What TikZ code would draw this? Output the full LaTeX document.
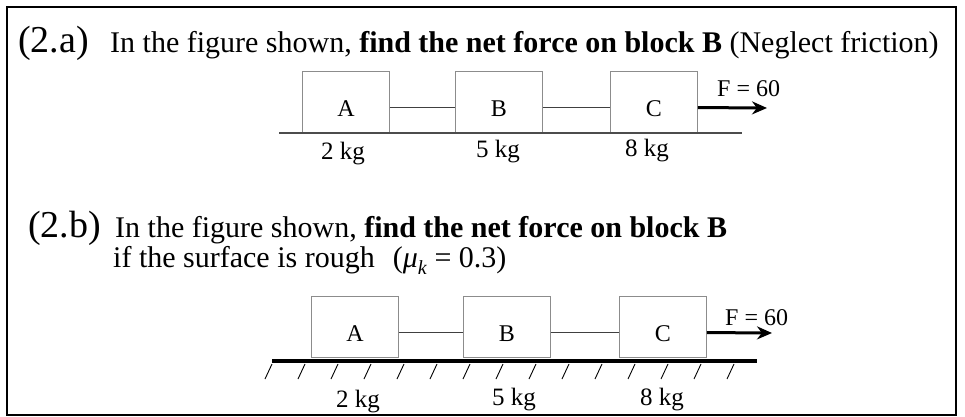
\documentclass[tikz,border=0pt]{standalone}
\usepackage{fontspec}
\setmainfont{Liberation Serif}
\usepackage{tikz}
\usetikzlibrary{arrows.meta}
\usetikzlibrary{calc}

\tikzset{
    block/.style={draw=black!45, line width=0.9pt, minimum width=87pt, minimum height=61pt,
        anchor=south west, inner sep=0pt, text height=28pt, text depth=0pt,
        font=\fontsize{24}{24}\selectfont},
    rope/.style={draw=black!75, line width=1.4pt},
    pull/.style={line width=3pt, -{Stealth[length=15pt, width=13pt]}},
    mass/.style={anchor=base, inner sep=0pt, font=\fontsize{25}{25}\selectfont},
    force/.style={anchor=base west, inner sep=0pt, font=\fontsize{24}{24}\selectfont},
    partno/.style={anchor=base west, inner sep=0pt, font=\fontsize{38}{38}\selectfont},
    question/.style={anchor=base west, inner sep=0pt, font=\fontsize{30}{30}\selectfont}
}

\begin{document}
\begin{tikzpicture}[x=1pt, y=-1pt]
        \useasboundingbox (0,0) rectangle (965,417);
        \draw[line width=2pt] (7,7) rectangle (956,415);

        \node[partno] (pa) at (18,53) {(2.a)};
        \node[question] (qa) at (110,53) {In the figure shown, \textbf{find the net force on block B} (Neglect friction)};

        \node[block] (A1) at (302,133) {A};
        \node[block] (B1) at (455,133) {B};
        \node[block] (C1) at (610,133) {C};
        \coordinate (F1) at (767,108);

        \draw[draw=black!70, line width=1.5pt] (279,133) -- (742,133);
        \draw[rope] ([yshift=-5.5pt]A1.east) -- ([yshift=-5.5pt]B1.west);
        \draw[rope] ([yshift=-5.5pt]B1.east) -- ([yshift=-5.5pt]C1.west);
        \draw[pull] ([yshift=-5.5pt]C1.east) -- (F1);

        \node[force] (f1) at (717,97) {F~=~60};
        \node[mass] (m1a) at (343,159) {2 kg};
        \node[mass] (m1b) at (498,157) {5 kg};
        \node[mass] (m1c) at (647,156) {8 kg};

        \node[partno] (pb) at (28,237) {(2.b)};
        \node[question] (qb) at (115,237) {In the figure shown, \textbf{find the net force on block B}};
        \node[question] (qc) at (113,267) {if the surface is rough\hspace{18pt}(\textit{μ}\raisebox{-7pt}{\fontsize{20}{20}\selectfont\textit{k}}~=~0.3)};

        \node[block] (A2) at (311,358) {A};
        \node[block] (B2) at (463,358) {B};
        \node[block] (C2) at (619,358) {C};
        \coordinate (F2) at (772,333);

        \draw[line width=3.5pt] (272,361) -- (757,361);
        \foreach \i in {0,...,14}
            \draw[line width=0.9pt] ({272+33*\i},364) -- ++(-7,15);
        \draw[rope] ([yshift=-5.5pt]A2.east) -- ([yshift=-5.5pt]B2.west);
        \draw[rope] ([yshift=-5.5pt]B2.east) -- ([yshift=-5.5pt]C2.west);
        \draw[pull] ([yshift=-5.5pt]C2.east) -- (F2);

        \node[force] (f2) at (725,325) {F~=~60};
        \node[mass] (m2a) at (358,407) {2 kg};
        \node[mass] (m2b) at (514,405) {5 kg};
        \node[mass] (m2c) at (662,405) {8 kg};
\end{tikzpicture}
\end{document}
